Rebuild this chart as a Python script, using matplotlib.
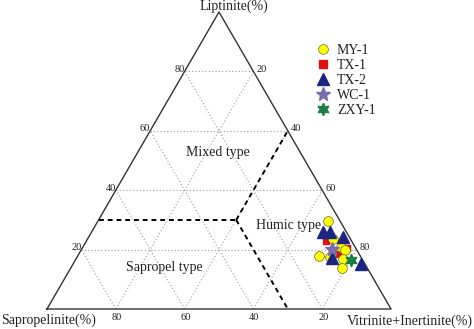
import numpy as np
import matplotlib
matplotlib.use('Agg')
import matplotlib.pyplot as plt
from matplotlib.lines import Line2D

plt.rcParams['font.family'] = ['Liberation Serif', 'DejaVu Serif']

# sample compositions in percent: Sapropelinite (S), Liptinite (L), Vitrinite+Inertinite (V)
my1_S = [3.6, 5.0, 4.0, 3.4, 12.0, 8.9, 5.5, 7.5]
my1_L = [29.7, 23.5, 21.0, 19.9, 17.9, 17.6, 16.7, 13.7]
my1_V = [66.7, 71.5, 75.0, 76.7, 70.1, 73.5, 77.8, 78.8]

tx1_S = [7.5, 2.7, 5.8]
tx1_L = [23.0, 20.4, 18.4]
tx1_V = [69.5, 76.9, 75.8]

tx2_S = [6.7, 4.7, 2.0, 8.5, 1.2]
tx2_L = [26.0, 26.0, 24.1, 17.1, 15.2]
tx2_V = [67.3, 69.3, 73.9, 74.4, 83.6]

wc1_S = [7.0]
wc1_L = [20.1]
wc1_V = [72.9]

zxy1_S = [3.4]
zxy1_L = [16.5]
zxy1_V = [80.1]

grid_levels = [20, 40, 60, 80]

# boundaries between organic matter types (S, L, V)
split_left = (70, 30, 0)
split_mid = (30, 30, 40)
split_top = (0, 60, 40)
split_bottom = (30, 0, 70)

H = np.sqrt(3) / 2


def tern(s, l, v):
    s, l, v = np.asarray(s, float), np.asarray(l, float), np.asarray(v, float)
    tot = s + l + v
    return (v + l / 2) / tot, l / tot * H


def seg(ax, a, b, **kw):
    xa, ya = tern(*a)
    xb, yb = tern(*b)
    ax.plot([xa, xb], [ya, yb], **kw)


fig = plt.figure(figsize=(4.74, 3.29), dpi=100)
W, Hpx = 474, 329
# triangle: left vertex (47,309), right vertex (391,309), apex (219,12) in pixels
ax = fig.add_axes([47 / W, 1 - 309 / Hpx, 344 / W, 297 / Hpx])
ax.set_xlim(0, 1)
ax.set_ylim(0, H)
ax.axis('off')

grid_kw = dict(color='#9a9a9a', lw=0.8, ls=(0, (1, 2)), zorder=1)
for k in grid_levels:
    seg(ax, (100 - k, k, 0), (0, k, 100 - k), **grid_kw)
    seg(ax, (100 - k, 0, k), (0, 100 - k, k), **grid_kw)
    seg(ax, (k, 0, 100 - k), (k, 100 - k, 0), **grid_kw)

# triangle outline
ox, oy = tern([100, 0, 0, 100], [0, 0, 100, 0], [0, 100, 0, 0])
ax.plot(ox, oy, color='#333333', lw=1.0, zorder=2, clip_on=False)

dash_kw = dict(color='black', lw=1.4, ls=(0, (2.5, 2)), zorder=2)
seg(ax, split_left, split_mid, **dash_kw)
seg(ax, split_mid, split_top, **dash_kw)
seg(ax, split_mid, split_bottom, **dash_kw)

# tick labels
tick_fs = 7.5
txt_col = '#222222'
for k in grid_levels:
    x, y = tern(100 - k, k, 0)
    ax.annotate(str(k), (x, y), xytext=(0, 2), textcoords='offset pixels', color=txt_col,
                ha='right', va='center', fontsize=tick_fs, annotation_clip=False)
    x, y = tern(0, 100 - k, k)
    ax.annotate(str(k), (x, y), xytext=(3, 2), textcoords='offset pixels', color=txt_col,
                ha='left', va='center', fontsize=tick_fs, annotation_clip=False)
    x, y = tern(k, 0, 100 - k)
    ax.annotate(str(k), (x, y), xytext=(1, -8), textcoords='offset pixels', color=txt_col,
                ha='center', va='center', fontsize=tick_fs, annotation_clip=False)

# samples
x, y = tern(my1_S, my1_L, my1_V)
ax.plot(x, y, 'o', ms=7, mfc='#ffff00', mec='#666633', mew=0.5, ls='none', zorder=5, clip_on=False)
x, y = tern(tx1_S, tx1_L, tx1_V)
ax.plot(x, y, 's', ms=4, mfc='#e01010', mec='#e01010', ls='none', zorder=4, clip_on=False)
x, y = tern(tx2_S, tx2_L, tx2_V)
ax.plot(x, y, '^', ms=8, mfc='#1c2580', mec='#1c2580', ls='none', zorder=6, clip_on=False)
x, y = tern(wc1_S, wc1_L, wc1_V)
ax.plot(x, y, '*', ms=10, mfc='#7a6cae', mec='#7a6cae', ls='none', zorder=7, clip_on=False)
x, y = tern(zxy1_S, zxy1_L, zxy1_V)
ax.plot(x, y, marker=(6, 1, 0), ms=9, mfc='#1d7d43', mec='#1d7d43', ls='none', zorder=7, clip_on=False)


def px(x, y):
    return x / W, 1 - y / Hpx


# region names and axis titles
fig.text(*px(218, 152), 'Mixed type', fontsize=10, ha='center', va='center', color=txt_col)
fig.text(*px(289, 225), 'Humic type', fontsize=10, ha='center', va='center', color=txt_col)
fig.text(*px(164, 268), 'Sapropel type', fontsize=10, ha='center', va='center', color=txt_col)
fig.text(*px(234, 6), 'Liptinite(%)', fontsize=10, ha='center', va='center', color=txt_col)
fig.text(*px(1, 320), 'Sapropelinite(%)', fontsize=10, ha='left', va='center', color=txt_col)
fig.text(*px(473, 321), 'Vitrinite+Inertinite(%)', fontsize=10, ha='right', va='center', color=txt_col)

handles = [
    Line2D([], [], marker='o', ms=7, mfc='#ffff00', mec='#666633', mew=0.5, ls='none'),
    Line2D([], [], marker='s', ms=6, mfc='#e01010', mec='#e01010', ls='none'),
    Line2D([], [], marker='^', ms=8, mfc='#1c2580', mec='#1c2580', ls='none'),
    Line2D([], [], marker='*', ms=10, mfc='#7a6cae', mec='#7a6cae', ls='none'),
    Line2D([], [], marker=(6, 1, 0), ms=9, mfc='#1d7d43', mec='#1d7d43', ls='none'),
]
leg = fig.legend(handles, ['MY-1', 'TX-1', 'TX-2', 'WC-1', 'ZXY-1'], loc='upper left',
                 bbox_to_anchor=px(316, 44), frameon=False, fontsize=10, borderpad=0,
                 handlelength=1.0, handletextpad=0.5, labelspacing=0.15, borderaxespad=0)
for t in leg.get_texts():
    t.set_color(txt_col)

fig.savefig('out.png', dpi=100)
